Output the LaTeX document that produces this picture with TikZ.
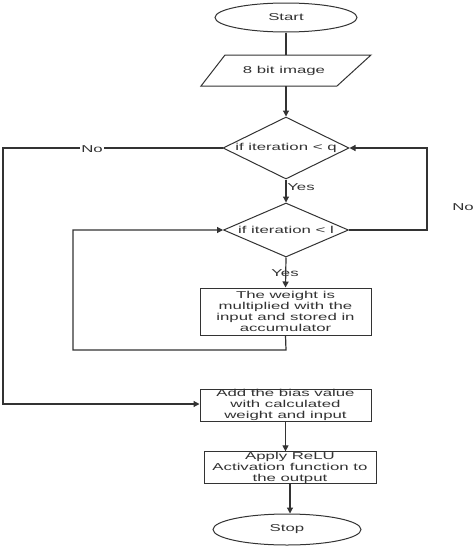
\documentclass[tikz,border=0pt]{standalone}
\usepackage{fontspec}
\setmainfont{Liberation Sans}[FakeStretch=1.68]
\usetikzlibrary{shapes.geometric,arrows.meta,calc}
\definecolor{ink}{HTML}{333333}
\tikzset{
  base/.style={font=\fontsize{10}{11}\selectfont, text=ink, inner sep=0pt, align=center},
  term/.style={base, ellipse, draw=ink, line width=1pt},
  cond/.style={base, diamond, draw=ink, line width=1pt},
  proc/.style={base, rectangle, draw=ink, line width=1pt},
  conn/.style={draw=ink, line width=1.2pt},
  arr/.style={conn, -{Triangle[length=6pt,width=6pt]}},
  lbl/.style={base}
}
\begin{document}
\begin{tikzpicture}[x=1pt,y=-1pt]
\fill[white] (0,0) rectangle (474,546);
\useasboundingbox (0,0) rectangle (474,546);
\clip (0,0) rectangle (474,546);

\node[term, minimum width=142pt, minimum height=29pt] (start) at (286,17.5) {Start};
\node[base, minimum width=120pt, minimum height=31pt] (img) at (284,70.5) {8 bit image};
\draw[draw=ink, line width=1pt] (225,55) -- (371,55) -- (337,86) -- (201,86) -- cycle;
\node[cond, aspect=2.03, minimum width=126pt, minimum height=62pt] (q) at (286,148) {if iteration < q};
\node[cond, aspect=2.3, minimum width=125pt, minimum height=54pt] (l) at (286,230) {if iteration < l};
\node[proc, minimum width=171pt, minimum height=47pt] (w) at (285.5,311.5) {The weight is\\multiplied with the\\input and stored in\\accumulator};
\node[proc, minimum width=171pt, minimum height=32pt] (bias) at (285.5,405) {Add the bias value\\with calculated\\weight and input};
\node[proc, minimum width=172pt, minimum height=31pt] (relu) at (290,467.5) {Apply ReLU\\Activation function to\\the output};
\node[term, minimum width=148pt, minimum height=31pt] (stop) at (287,529.5) {Stop};

\coordinate (qL) at (3,148);
\coordinate (bL) at (3,404);
\coordinate (lR) at (427,230);
\coordinate (qR) at (427,148);
\coordinate (wD) at (286,350);
\coordinate (wL) at (73,350);
\coordinate (lL) at (73,230);

\draw[conn] (start.south) -- (start.south |- 0,55);
\draw[arr] (286,86) -- (q.north);
\draw[arr] (q.south) -- (l.north);
\draw[arr] (l.south) -- (w.north);
\draw[arr] (q.west) -- (qL) -- (bL) -- (bias.west |- bL);
\draw[arr] (l.east) -- (lR) -- (qR) -- (q.east);
\draw[arr] (w.south) -- (wD) -- (wL) -- (lL) -- (l.west);
\draw[arr] (bias.south) -- (bias.south |- relu.north);
\draw[arr] (relu.south) -- (relu.south |- stop.north);

\node[lbl, fill=white, inner xsep=1pt] (no1) at (92,149.5) {No};
\node[lbl] (no2) at (463,207) {No};
\node[lbl] (yes1) at (301,187) {Yes};
\node[lbl] (yes2) at (285,273) {Yes};
\end{tikzpicture}
\end{document}
